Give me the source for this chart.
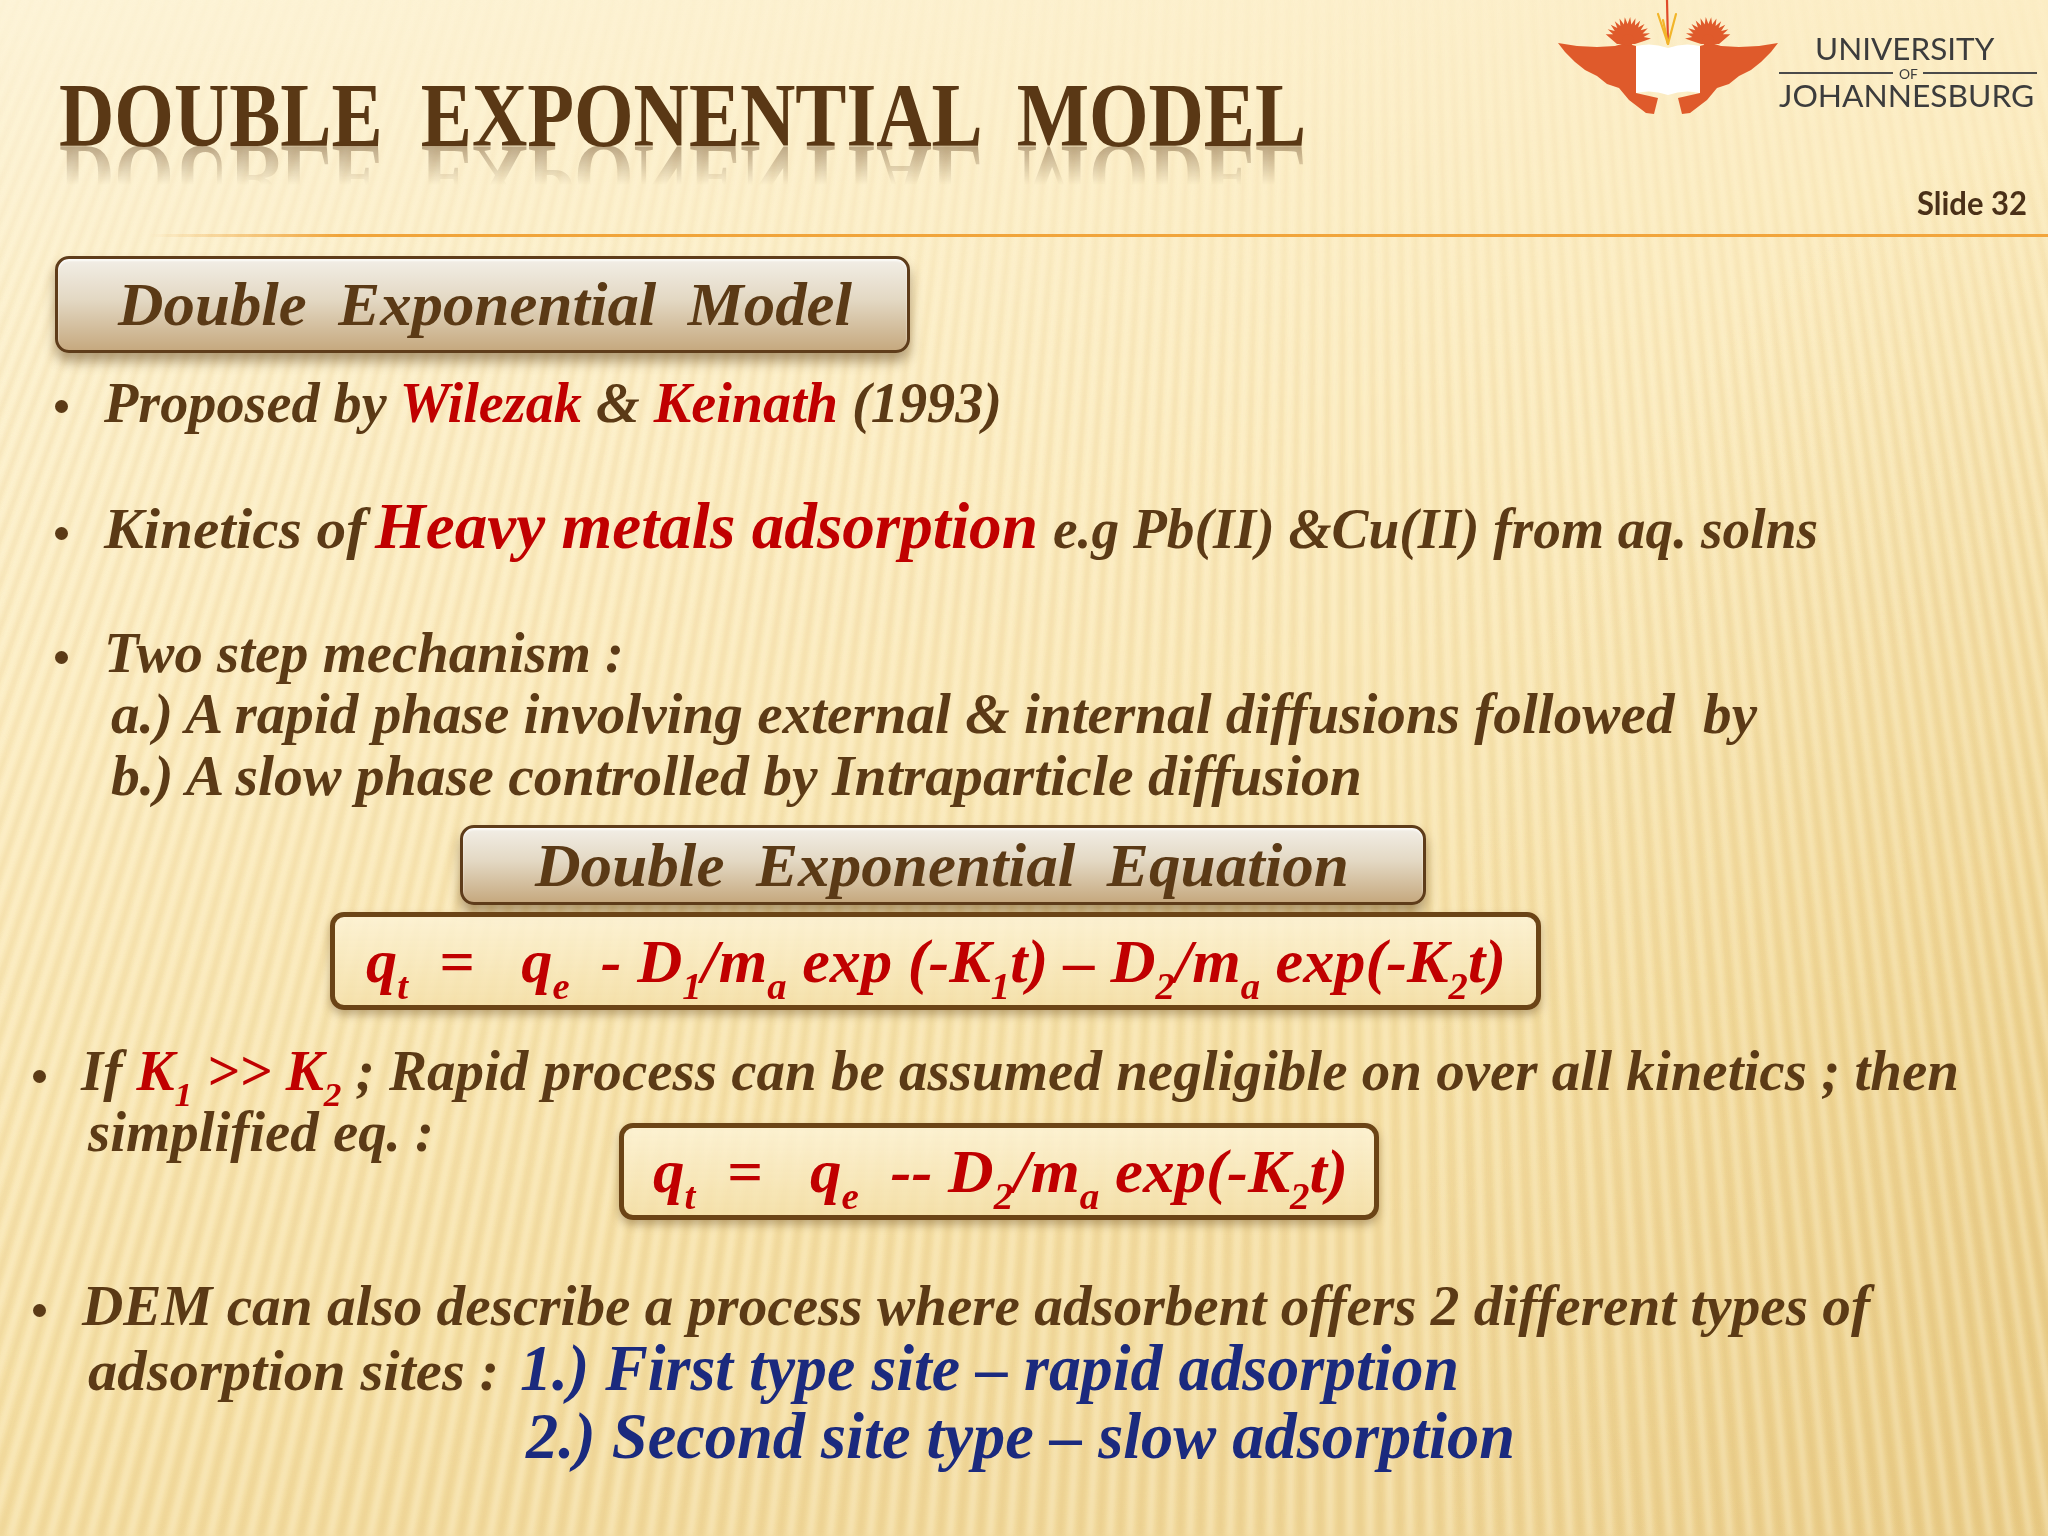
<!DOCTYPE html>
<html>
<head>
<meta charset="utf-8">
<script src="https://cdn.jsdelivr.net/npm/chart.js@4.4.1/dist/chart.umd.min.js"></script>
<style>
html, body { margin: 0; padding: 0; }
body {
    width: 2048px; height: 1536px; overflow: hidden; position: relative;
    font-family: "Liberation Serif", serif;
    background:
        radial-gradient(ellipse 760px 1150px at 2180px 1250px, rgba(222,186,104,0.38), rgba(222,186,104,0) 100%),
        linear-gradient(165deg, #fdf4d8 0%, #fcecc0 35%, #f6e0a6 70%, #eed393 100%);
}
#bg { position: absolute; left: 0; top: 0; }
.ln { position: absolute; white-space: pre; transform-origin: 0 0; line-height: 1;
      font-style: italic; font-weight: bold; color: #5b3a16; }
.bl { display: inline-block; width: 0; height: 0; vertical-align: baseline; }
.r { color: #c00000; }
.b { color: #1b2a7e; }
.sub { font-size: 0.62em; vertical-align: -0.45em; }
.title { font-style: normal; color: #5a3815;
         -webkit-box-reflect: below -30px linear-gradient(transparent 40%, rgba(255,255,255,0.55)); }
.sans { font-family: "Lato", "Liberation Sans", sans-serif; font-style: normal; }
.box { position: absolute; box-sizing: border-box; border-radius: 14px; }
.hbox { border: 3px solid #5e3c1a;
        background: linear-gradient(#f2eee6 0%, #e3d8c3 45%, #c6a97f 100%);
        box-shadow: 0 9px 12px rgba(90,60,20,0.45), inset 0 2px 2px rgba(255,255,255,0.8); }
.ebox { border: 5px solid #6b4416;
        background: linear-gradient(rgba(252,242,212,0.9), rgba(244,224,170,0.85));
        box-shadow: 0 5px 8px rgba(90,60,20,0.35); }
.dot { position: absolute; width: 13px; height: 13px; border-radius: 50%; background: #5b3a16; }
#rule { position: absolute; left: 150px; top: 234px; width: 1898px; height: 3px;
        background: linear-gradient(90deg, rgba(240,164,58,0) 0%, #f0a43a 10%, #f2a53c 100%); }
</style>
</head>
<body>
<canvas id="bg" width="2048" height="1536"></canvas>
<div id="rule"></div>

<svg style="position:absolute;left:1557px;top:0" width="222" height="122" viewBox="0 0 222 122">
  <g id="half" fill="#df5a2b">
    <path d="M1 43 L20 46 L40 47 L58 46 L68 43 L79 46 L79 93 L101 98 L97 114 L89 113 L72 100 L62 88 L50 84 L40 76 L28 70 L18 62 L8 52 Z"/>
    <path id="crest" d=""/>
    <circle cx="71" cy="40" r="6"/>
  </g>
  <use href="#half" transform="translate(222,0) scale(-1,1)"/>
  <g stroke-width="2.2" stroke-linecap="round">
    <line x1="111" y1="44" x2="101" y2="14" stroke="#f2b52a"/>
    <line x1="111" y1="44" x2="110" y2="0" stroke="#e04a2a"/>
    <line x1="111" y1="44" x2="119" y2="14" stroke="#f2b52a"/>
    <line x1="111" y1="44" x2="106" y2="20" stroke="#f2b52a"/>
  </g>
  <path d="M79 46 Q95 42 111 48 Q127 42 143 46 L143 93 Q127 89 111 95 Q95 89 79 93 Z" fill="#ffffff"/>
</svg>
<div style="position:absolute;left:1779px;top:72px;width:114px;height:2px;background:#4a4a4a"></div>
<div style="position:absolute;left:1923px;top:72px;width:114px;height:2px;background:#4a4a4a"></div>

<script>
// slide text, one entry per line piece: [style, text] parts
const titleText = [['', 'DOUBLE  EXPONENTIAL  MODEL']];
const slideNo = [['', 'Slide 32']];
const uniTop = [['', 'UNIVERSITY']];
const uniOf = [['', 'OF']];
const uniBottom = [['', 'JOHANNESBURG']];
const heading1 = [['', 'Double  Exponential  Model']];
const heading2 = [['', 'Double  Exponential  Equation']];
const bullet1 = [['', 'Proposed by '], ['r', 'Wilezak'], ['', ' & '], ['r', 'Keinath'], ['', ' (1993)']];
const bullet2a = [['', 'Kinetics of']];
const bullet2b = [['r', 'Heavy metals adsorption']];
const bullet2c = [['', 'e.g Pb(II) &Cu(II) from aq. solns']];
const bullet3 = [['', 'Two step mechanism :']];
const step_a = [['', 'a.) A rapid phase involving external & internal diffusions followed  by']];
const step_b = [['', 'b.) A slow phase controlled by Intraparticle diffusion']];
const equation1 = [['r', 'q'], ['r sub', 't'], ['r', '  =   q'], ['r sub', 'e'], ['r', '  - D'], ['r sub', '1'],
    ['r', '/m'], ['r sub', 'a'], ['r', ' exp (-K'], ['r sub', '1'], ['r', 't) – D'], ['r sub', '2'],
    ['r', '/m'], ['r sub', 'a'], ['r', ' exp(-K'], ['r sub', '2'], ['r', 't)']];
const bullet4 = [['', 'If '], ['r', 'K'], ['r sub', '1'], ['r', ' >> K'], ['r sub', '2'],
    ['', ' ; Rapid process can be assumed negligible on over all kinetics ; then']];
const bullet4b = [['', 'simplified eq. :']];
const equation2 = [['r', 'q'], ['r sub', 't'], ['r', '  =   q'], ['r sub', 'e'], ['r', '  -- D'], ['r sub', '2'],
    ['r', '/m'], ['r sub', 'a'], ['r', ' exp(-K'], ['r sub', '2'], ['r', 't)']];
const bullet5 = [['', 'DEM can also describe a process where adsorbent offers 2 different types of']];
const bullet5b = [['', 'adsorption sites :']];
const site1 = [['b', '1.) First type site – rapid adsorption']];
const site2 = [['b', '2.) Second site type – slow adsorption']];

// layout: parts, left, right, baseline, font size, extra class
const layout = [
    [titleText, 59, 1306, 146, 90, 'title'],
    [slideNo, 1917, 2027, 215, 33, 'sans slide'],
    [uniTop, 1815, 1998, 60, 31, 'sans uni'],
    [uniOf, 1899, 1918, 79, 14, 'sans uni'],
    [uniBottom, 1779, 2037, 107, 31, 'sans uni'],
    [heading1, 118, 852, 325, 62, ''],
    [bullet1, 104, 1002, 422, 57, ''],
    [bullet2a, 104, 366, 548, 57, ''],
    [bullet2b, 375, 1038, 548, 66, ''],
    [bullet2c, 1053, 1818, 548, 57, ''],
    [bullet3, 104, 624, 672, 57, ''],
    [step_a, 111, 1757, 733, 57, ''],
    [step_b, 111, 1362, 795, 57, ''],
    [heading2, 535, 1349, 886, 62, ''],
    [equation1, 366, 1506, 982, 62, ''],
    [bullet4, 81, 1959, 1090, 56, ''],
    [bullet4b, 88, 434, 1151, 56, ''],
    [equation2, 653, 1348, 1192, 62, ''],
    [bullet5, 82, 1870, 1325, 56, ''],
    [bullet5b, 88, 499, 1390, 56, ''],
    [site1, 520, 1459, 1390, 65, ''],
    [site2, 526, 1515, 1458, 65, '']
];

const boxes = [
    ['hbox', 55, 256, 855, 97],
    ['hbox', 460, 825, 966, 80],
    ['ebox', 330, 912, 1211, 98],
    ['ebox', 619, 1123, 760, 97]
];
const dots = [[61, 406], [61, 533], [61, 657], [39, 1076], [39, 1310]];

// crest of the bird: a serrated half fan above the head
let cp = 'M60 44';
for (let k = 0; k <= 12; k++) {
    const a = Math.PI * (1.08 + k * 0.075);
    const r1 = 23, r2 = 16;
    const cx = 71, cy = 40;
    cp += ' L' + (cx + r1 * Math.cos(a)).toFixed(1) + ' ' + (cy + r1 * Math.sin(a)).toFixed(1);
    const b = a + Math.PI * 0.037;
    cp += ' L' + (cx + r2 * Math.cos(b)).toFixed(1) + ' ' + (cy + r2 * Math.sin(b)).toFixed(1);
}
cp += ' L78 44 Z';
document.getElementById('crest').setAttribute('d', cp);

// striped background, soft bands fanning from a point far above
const bg = document.getElementById('bg');
const g = bg.getContext('2d');
const vx = 1350, vy = -3200;
g.filter = 'blur(2px)';
let i = 0;
for (let b = -900; b < 3000; b += 10, i++) {
    g.strokeStyle = (i % 2) ? 'rgba(255,250,225,0.32)' : 'rgba(200,154,70,0.14)';
    g.lineWidth = (i % 2) ? 6 : 5;
    g.beginPath();
    g.moveTo(vx, vy);
    g.lineTo(b, 1536);
    g.stroke();
}
g.filter = 'none';
g.globalCompositeOperation = 'destination-in';
const fade = g.createLinearGradient(0, 0, 0, 1536);
fade.addColorStop(0, 'rgba(0,0,0,0.15)');
fade.addColorStop(0.25, 'rgba(0,0,0,0.8)');
fade.addColorStop(1, 'rgba(0,0,0,1)');
g.fillStyle = fade;
g.fillRect(0, 0, 2048, 1536);

boxes.forEach(([cls, x, y, w, h]) => {
    const d = document.createElement('div');
    d.className = 'box ' + cls;
    Object.assign(d.style, { left: x + 'px', top: y + 'px', width: w + 'px', height: h + 'px' });
    document.body.appendChild(d);
});
dots.forEach(([x, y]) => {
    const d = document.createElement('div');
    d.className = 'dot';
    d.style.left = (x - 6.5) + 'px';
    d.style.top = (y - 6.5) + 'px';
    document.body.appendChild(d);
});

function makeLine(parts, x0, x1, base, fs, cls) {
    const el = document.createElement('div');
    el.className = 'ln ' + cls;
    el.style.fontSize = fs + 'px';
    el.style.left = x0 + 'px';
    el.style.top = '0px';
    const mk = document.createElement('span');
    mk.className = 'bl';
    el.appendChild(mk);
    parts.forEach(([st, txt]) => {
        const s = document.createElement('span');
        s.className = st;
        s.textContent = txt;
        el.appendChild(s);
    });
    document.body.appendChild(el);
    const r = el.getBoundingClientRect();
    const off = mk.getBoundingClientRect().top - r.top;
    el.style.top = (base - off) + 'px';
    el.style.transform = 'scaleX(' + ((x1 - x0) / r.width).toFixed(4) + ')';
}

document.fonts.ready.then(() => {
    layout.forEach(l => makeLine(...l));
    document.querySelectorAll('.uni').forEach(e => { e.style.color = '#3c3c3c'; e.style.fontWeight = 'normal'; });
    document.querySelectorAll('.slide').forEach(e => { e.style.color = '#4a3018'; });
});
</script>
</body>
</html>
